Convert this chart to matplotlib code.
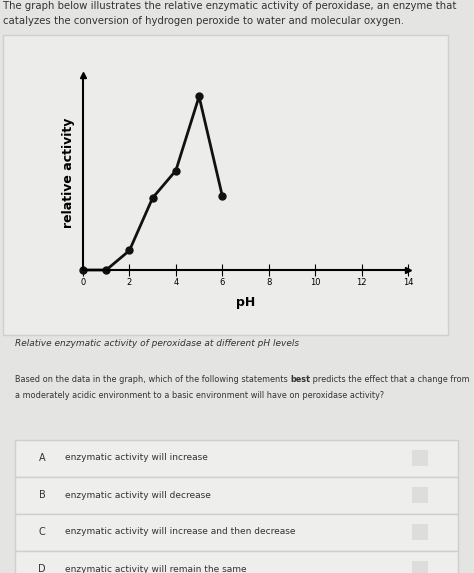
import matplotlib.pyplot as plt
from matplotlib.patches import Rectangle

ph = [0, 1, 2, 3, 4, 5, 6]
activity = [0, 0, 1.0, 3.7, 5.1, 8.9, 3.8]
ticks = [0, 2, 4, 6, 8, 10, 12, 14]
options = ['A', 'B', 'C', 'D']
answers = ['enzymatic activity will increase', 'enzymatic activity will decrease',
           'enzymatic activity will increase and then decrease', 'enzymatic activity will remain the same']

fig = plt.figure(figsize=(4.74, 5.73), dpi=100)
fig.patch.set_facecolor('#e4e4e2')
W, H = 474, 573

def fx(x): return x / W
def fy(y): return 1 - y / H

fig.text(fx(3), fy(6), 'The graph below illustrates the relative enzymatic activity of peroxidase, an enzyme that',
         fontsize=7.3, color='#333333', va='center')
fig.text(fx(3), fy(21), 'catalyzes the conversion of hydrogen peroxide to water and molecular oxygen.',
         fontsize=7.3, color='#333333', va='center')

# chart panel, behind the axes
fig.patches.append(Rectangle((fx(3), fy(335)), fx(445), 300 / H, transform=fig.transFigure,
                             facecolor='#ececea', edgecolor='#cfcfcf', lw=1, zorder=-5))
ax = fig.add_axes([fx(83), fy(270), fx(325), 195 / H])
ax.set_zorder(5)
ax.patch.set_alpha(0)
ax.plot(ph, activity, color='#111111', lw=2, marker='o', ms=5, clip_on=False)
ax.set_xlim(0, 14)
ax.set_ylim(0, 10)
ax.set_xticks(ticks)
ax.set_xticklabels([str(t) for t in ticks], fontsize=6)
ax.set_yticks([])
ax.spines['top'].set_visible(False)
ax.spines['right'].set_visible(False)
ax.spines['left'].set_linewidth(1.5)
ax.spines['bottom'].set_linewidth(1.5)
ax.tick_params(axis='x', direction='inout', length=8, pad=2)
ax.plot(1, 0, '>k', transform=ax.transAxes, clip_on=False, ms=5)
ax.plot(0, 1, '^k', transform=ax.transAxes, clip_on=False, ms=5)
ax.set_xlabel('pH', fontsize=9, fontweight='bold', labelpad=6)
ax.set_ylabel('relative activity', fontsize=9, fontweight='bold', labelpad=6)

fig.text(fx(15), fy(344), 'Relative enzymatic activity of peroxidase at different pH levels',
         fontsize=6.5, style='italic', color='#333333', va='center')
t1 = fig.text(fx(15), fy(380), 'Based on the data in the graph, which of the following statements ',
              fontsize=5.9, color='#333333', va='center')
fig.canvas.draw()
bb = t1.get_window_extent()
t2 = fig.text(bb.x1 / W, fy(380), 'best', fontsize=5.9, fontweight='bold', color='#333333', va='center')
bb2 = t2.get_window_extent(fig.canvas.get_renderer())
fig.text(bb2.x1 / W, fy(380), ' predicts the effect that a change from',
         fontsize=5.9, color='#333333', va='center')
fig.text(fx(15), fy(396), 'a moderately acidic environment to a basic environment will have on peroxidase activity?',
         fontsize=5.9, color='#333333', va='center')

for i, (o, a) in enumerate(zip(options, answers)):
    top = 440 + i * 37
    fig.patches.append(Rectangle((fx(15), fy(top + 37)), fx(443), 37 / H, transform=fig.transFigure,
                                 facecolor='#eeeeec', edgecolor='#cfcfcf', lw=1, zorder=-5))
    fig.text(fx(42), fy(top + 18), o, fontsize=7, color='#333333', va='center', ha='center')
    fig.text(fx(65), fy(top + 18), a, fontsize=6.5, color='#333333', va='center')
    fig.patches.append(Rectangle((fx(412), fy(top + 26)), fx(16), 16 / H, transform=fig.transFigure,
                                 facecolor='#dddddb', edgecolor='none', zorder=-4))

fig.savefig('out.png', dpi=100, facecolor=fig.get_facecolor())
